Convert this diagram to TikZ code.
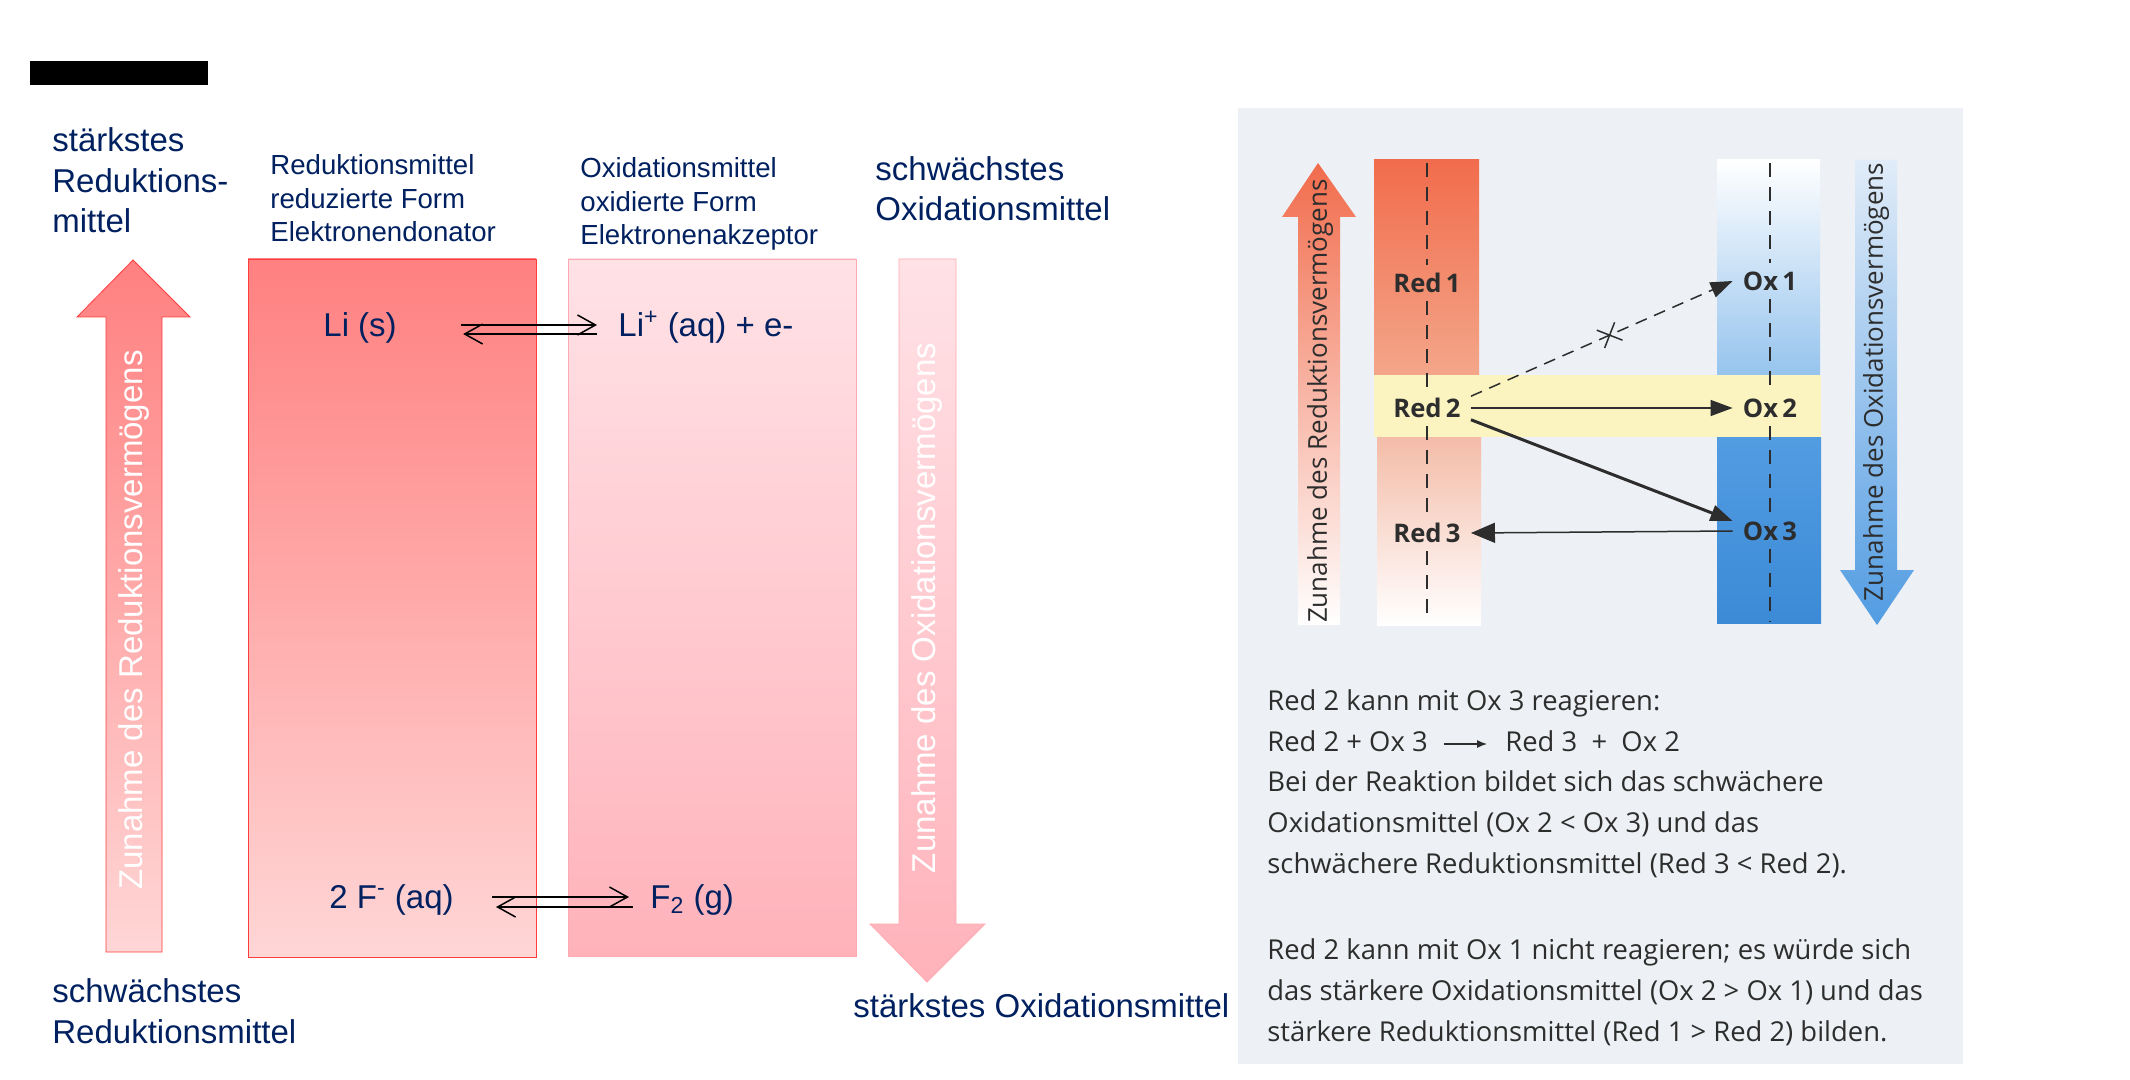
\documentclass[tikz,border=0pt]{standalone}
\usepackage{fontspec}
\setmainfont{Liberation Sans}
\newfontfamily\scanfont{Open Sans}
\usetikzlibrary{arrows.meta, shapes.misc}

\definecolor{navy}{RGB}{0,32,96}
\definecolor{salmon}{RGB}{255,128,128}
\definecolor{rosa}{RGB}{255,214,214}
\definecolor{pale}{RGB}{255,226,230}
\definecolor{pinkish}{RGB}{255,178,186}
\definecolor{edgered}{RGB}{255,60,60}
\definecolor{edgepink}{RGB}{255,170,178}
\definecolor{panel}{RGB}{237,240,244}
\definecolor{ink}{RGB}{45,45,45}
\definecolor{orangered}{RGB}{241,108,76}
\definecolor{peach}{RGB}{244,166,138}
\definecolor{blush}{RGB}{244,188,168}
\definecolor{sky}{RGB}{150,196,238}
\definecolor{ocean}{RGB}{82,156,226}
\definecolor{deep}{RGB}{60,138,214}
\definecolor{icy}{RGB}{225,236,248}
\definecolor{lemon}{RGB}{251,244,192}

\begin{document}
\begin{tikzpicture}[x=0.5pt, y=-0.5pt,
    big/.style={inner sep=0, anchor=base west, align=left, text=navy,
      font=\fontsize{16.5}{20.25}\selectfont},
    hdtext/.style={inner sep=0, anchor=base west, align=left, text=navy,
      font=\fontsize{13.8}{16.75}\selectfont},
    species/.style={inner sep=0, anchor=base west, text=navy,
      font=\fontsize{16.5}{20}\selectfont},
    eqarrow/.style={line width=0.75pt, -{Straight Barb[length=9pt, width=10pt]}},
    vtext/.style={rotate=90, text=white, font=\fontsize{16.5}{20}\selectfont},
    booktext/.style={rotate=90, text=ink, font=\scanfont\fontsize{13}{15}\selectfont},
    scan/.style={inner sep=0, anchor=base west, align=left, text=ink,
      font=\scanfont\fontsize{13.7}{20.5}\selectfont},
    lbl/.style={inner xsep=5pt, inner ysep=4pt, text=ink,
      font=\scanfont\bfseries\fontsize{12.8}{14}\selectfont},
    redox/.style={draw=ink, line width=0.75pt, -{Triangle[length=11pt, width=8pt]}},
    midline/.style={draw=ink, line width=0.7pt, dash pattern=on 7pt off 5pt}]
  \useasboundingbox (0,0) rectangle (2130,1080);
  \fill (30,61) rectangle (208,85);

  % Reduktionsmittel (links); mehrzeilige Texte sitzen auf der letzten Zeile
  \node[big] (strongred) at (52,233) {stärkstes\\Reduktions-\\mittel};
  \shadedraw[draw=edgered, line width=0.4pt, top color=salmon, bottom color=rosa]
    (106,952) -- (106,317) -- (77,317) -- (133,260) -- (190,317) -- (162,317) -- (162,952) -- cycle;
  \node[vtext] (redpower) at (134,620) {Zunahme des Reduktionsvermögens};
  \node[big] (weakred) at (52,1043) {schwächstes\\Reduktionsmittel};

  \shadedraw[draw=edgered, line width=0.4pt, top color=salmon, bottom color=rosa]
    (248,259) rectangle (536,957);
  \node[hdtext] (redhead) at (270,242) {Reduktionsmittel\\reduzierte Form\\Elektronendonator};

  % Oxidationsmittel (Mitte)
  \shadedraw[draw=edgepink, line width=0.4pt, top color=pale, bottom color=pinkish]
    (568,259) rectangle (856,956);
  \node[hdtext] (oxhead) at (580,245) {Oxidationsmittel\\oxidierte Form\\Elektronenakzeptor};
  \node[big] (weakox) at (875,221) {schwächstes\\Oxidationsmittel};
  \shadedraw[draw=edgepink, line width=0.4pt, top color=pale, bottom color=pinkish]
    (899,259) -- (956,259) -- (956,924) -- (985,924) -- (927,982) -- (870,924) -- (899,924) -- cycle;
  \node[vtext] (oxpower) at (927,608) {Zunahme des Oxidationsvermögens};
  \node[big] (strongox) at (853,1017) {stärkstes Oxidationsmittel};

  % Redoxpaare
  \node[species] (li) at (323,337) {Li (s)};
  \node[species] (liion) at (618,337) {Li\textsuperscript{+} (aq) + e-};
  \draw[eqarrow] ([shift={(64,-12)}]li.base east) -- ([shift={(-21,-12)}]liion.base west);
  \draw[eqarrow] ([shift={(-21,-3)}]liion.base west) -- ([shift={(66,-3)}]li.base east);
  \node[species] (fion) at (329,908) {2 F\textsuperscript{-} (aq)};
  \node[species] (ftwo) at (650,908) {F\textsubscript{2} (g)};
  \draw[eqarrow] ([shift={(38,-11)}]fion.base east) -- ([shift={(-21,-11)}]ftwo.base west);
  \draw[eqarrow] ([shift={(-17,-1)}]ftwo.base west) -- ([shift={(42,-1)}]fion.base east);

  % Schema rechts
  \fill[panel] (1238,108) rectangle (1963,1064);
  \shade[top color=orangered, bottom color=peach] (1374,160) rectangle (1479,375);
  \shade[top color=blush, bottom color=white] (1377,437) rectangle (1481,625);
  \shade[top color=white, middle color=sky!40, bottom color=sky] (1717,160) rectangle (1820,375);
  \shade[top color=ocean, bottom color=deep] (1717,437) rectangle (1821,623);
  \fill[lemon] (1374,375) rectangle (1821,437);

  \shade[top color=orangered, bottom color=white]
    (1298,625) -- (1298,217) -- (1282,217) -- (1318,163) -- (1356,217) -- (1340,217) -- (1340,625) -- cycle;
  \node[booktext] (redgain) at (1320,401) {Zunahme des Reduktionsvermögens};
  \shade[top color=icy, bottom color=ocean]
    (1855,160) -- (1897,160) -- (1897,570) -- (1914,570) -- (1877,625) -- (1840,570) -- (1855,570) -- cycle;
  \node[booktext] (oxgain) at (1876,382) {Zunahme des Oxidationsvermögens};

  \node[lbl] (red1) at (1427,283) {Red\,1};
  \node[lbl] (red2) at (1427,408) {Red\,2};
  \node[lbl] (red3) at (1427,533) {Red\,3};
  \node[lbl] (ox1) at (1770,281) {Ox\,1};
  \node[lbl] (ox2) at (1770,408) {Ox\,2};
  \node[lbl] (ox3) at (1770,531) {Ox\,3};
  \coordinate (redtop) at (1427,163);
  \coordinate (redbot) at (1427,622);
  \coordinate (oxtop) at (1770,163);
  \coordinate (oxbot) at (1770,622);
  \draw[midline] (redtop) -- (red1) -- (red2) -- (red3) -- (redbot);
  \draw[midline] (oxtop) -- (ox1) -- (ox2) -- (ox3) -- (oxbot);

  \draw[redox, dash pattern=on 6pt off 4pt] (red2.15) --
    node[pos=.53, sloped, cross out, draw=ink, solid, minimum size=9pt, inner sep=0] {} (ox1.west);
  \draw[redox] (red2.east) -- (ox2.west);
  \draw[redox, line width=1.5pt] (red2.-15) -- (ox3.165);
  \draw[redox, -{Triangle[length=12pt, width=10pt]}] (ox3.west) -- (red3.east);

  \node[scan] (can) at (1267,710) {Red 2 kann mit Ox 3 reagieren:};
  \node[scan] (eqleft) at (1267,751) {Red 2 + Ox 3};
  \node[scan] (eqright) at (1505,751) {Red 3 \ + \ Ox 2};
  \draw[ink, line width=0.6pt, -{Latex[length=5pt, width=4pt]}]
    ([shift={(16,-7)}]eqleft.base east) -- ([shift={(-18,-7)}]eqright.base west);
  \node[scan] (weaker) at (1267,873) {Bei der Reaktion bildet sich das schwächere\\Oxidationsmittel (Ox 2 < Ox 3) und das\\schwächere Reduktionsmittel (Red 3 < Red 2).};
  \node[scan] (cannot) at (1267,1041) {Red 2 kann mit Ox 1 nicht reagieren; es würde sich\\das stärkere Oxidationsmittel (Ox 2 > Ox 1) und das\\stärkere Reduktionsmittel (Red 1 > Red 2) bilden.};
\end{tikzpicture}
\end{document}
